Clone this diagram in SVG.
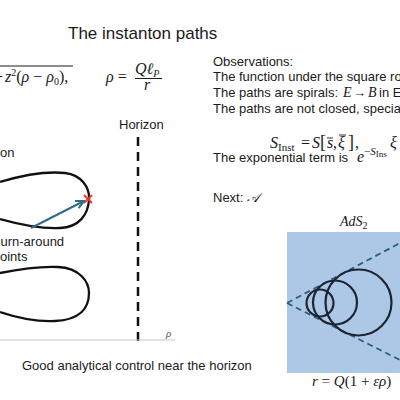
<svg xmlns="http://www.w3.org/2000/svg" width="400" height="400" viewBox="0 0 400 400">
<defs>
<style>
.t{font-family:"Liberation Sans",Arial,sans-serif;font-size:13px;fill:#1a1a1a}
.mi{font-family:"Liberation Serif","Times New Roman",serif;font-style:italic;fill:#1a1a1a}
.mr{font-family:"Liberation Serif","Times New Roman",serif;font-style:normal;fill:#1a1a1a}
.loop{fill:none;stroke:#111;stroke-width:2.3}
.circ{fill:none;stroke:#1c2430;stroke-width:2.2}
.cone{stroke:#2d5e7e;stroke-width:1.8;stroke-dasharray:6 4;fill:none}
</style>
<marker id="ah" viewBox="0 0 10 10" refX="9" refY="5" markerWidth="5" markerHeight="5" orient="auto" markerUnits="strokeWidth">
<path d="M1,1 L9,5 L1,9" fill="none" stroke="#2f6b8f" stroke-width="2"/>
</marker>
</defs>
<rect width="400" height="400" fill="#fff"/>

<g id="title"><text x="68" y="39" class="t" style="font-size:17px">The instanton paths</text></g>

<g id="formula-left">
<line x1="0" y1="66" x2="73" y2="66" stroke="#1a1a1a" stroke-width="1"/>
<text x="-6" y="82" class="mi" font-size="16"><tspan class="mr">+</tspan><tspan x="5">z</tspan><tspan class="mr" font-size="10" dy="-6">2</tspan><tspan class="mr" dy="6">(</tspan>ρ<tspan class="mr"> − </tspan>ρ<tspan class="mr" font-size="10" dy="3">0</tspan><tspan class="mr" dy="-3">),</tspan></text>
<text x="106" y="82" class="mi" font-size="16">ρ<tspan class="mr"> =</tspan></text>
<text x="135" y="74" class="mi" font-size="16">Qℓ<tspan font-size="10" dy="3">P</tspan></text>
<line x1="135" y1="78.5" x2="162" y2="78.5" stroke="#1a1a1a" stroke-width="1"/>
<text x="144" y="90" class="mi" font-size="16">r</text>
</g>

<g id="observations">
<text x="213" y="66" class="t">Observations:</text>
<text x="213" y="81" class="t">The function under the square ro</text>
<text x="213" y="97" class="t">The paths are spirals: <tspan x="343" class="mi" font-size="14">E</tspan><tspan x="353" class="mr">→</tspan><tspan x="368" class="mi" font-size="14">B</tspan><tspan x="379">in E</tspan></text>
<text x="213" y="113" class="t">The paths are not closed, specia</text>
</g>

<g id="action">
<text x="270" y="148" class="mi" font-size="16">S<tspan x="278" dy="2.5" class="mr" font-size="11">Inst</tspan><tspan x="301" dy="-2.5" class="mr">=</tspan><tspan x="312">S</tspan><tspan x="320" class="mr" font-size="18">[</tspan><tspan x="327">s</tspan><tspan x="333" class="mr">,</tspan><tspan x="338">ξ</tspan><tspan x="348" class="mr" font-size="18">]</tspan><tspan x="355" class="mr">,</tspan><tspan x="390">ξ</tspan></text>
<line x1="327" y1="138" x2="333" y2="138" stroke="#1a1a1a" stroke-width="0.9"/>
<line x1="339" y1="135" x2="346" y2="135" stroke="#1a1a1a" stroke-width="0.9"/>
<text x="213" y="162" class="t">The exponential term is <tspan x="357" class="mi" font-size="16">e</tspan><tspan x="364" dy="-7" class="mr" font-size="11">−</tspan><tspan class="mi" font-size="11">S</tspan><tspan class="mr" font-size="9" dy="2">Ins</tspan></text>
</g>

<g id="next">
<text x="213" y="202" class="t">Next: <tspan font-family="'DejaVu Sans','Noto Sans',serif" font-style="italic">𝒜</tspan></text>
</g>

<g id="left-plot">
<text x="0" y="157" class="t">on</text>
<text x="119" y="129" class="t">Horizon</text>
<line x1="138" y1="137" x2="138" y2="343" stroke="#111" stroke-width="2.5" stroke-dasharray="9 6"/>
<line x1="0" y1="340" x2="175" y2="340" stroke="#c8c8c8" stroke-width="1.2"/>
<text x="166" y="337" class="mi" font-size="11" style="fill:#555">ρ</text>
<path id="loop-upper" class="loop" d="M0,182 C20,176 45,171 65,173 C82,175 90,188 89,200 C88,214 80,227 60,228 C40,229 18,224 0,219"/>
<path id="loop-lower" class="loop" d="M0,273 C20,269 40,266 58,267 C80,268 89,282 89,293 C89,308 80,320 55,321 C35,322 15,317 0,312"/>
<g id="turn-point" stroke="#e63b2e" stroke-width="2">
<line x1="84" y1="195" x2="92" y2="203"/>
<line x1="92" y1="195" x2="84" y2="203"/>
</g>
<text x="0.5" y="246" class="t">urn-around</text>
<text x="0" y="261" class="t">oints</text>
<text x="22" y="370" class="t">Good analytical control near the horizon</text>
</g>

<g id="connectors">
<line x1="31" y1="228" x2="84" y2="201" stroke="#2f6b8f" stroke-width="2" marker-end="url(#ah)"/>
</g>

<g id="ads2">
<text x="340" y="226" class="mi" font-size="14">AdS<tspan class="mr" font-size="10" dy="3">2</tspan></text>
<rect x="287" y="232" width="113" height="141" fill="#adc8e6"/>
<line class="cone" x1="287" y1="303" x2="400" y2="243"/>
<line class="cone" x1="287" y1="303" x2="400" y2="360"/>
<circle class="circ" cx="320" cy="303" r="13.5"/>
<circle class="circ" cx="335" cy="302.5" r="22"/>
<circle class="circ" cx="358.5" cy="302.5" r="33"/>
<text x="312" y="386" class="mi" font-size="15">r<tspan class="mr"> = </tspan>Q<tspan class="mr">(1 + </tspan>ερ<tspan class="mr">)</tspan></text>
</g>
</svg>
